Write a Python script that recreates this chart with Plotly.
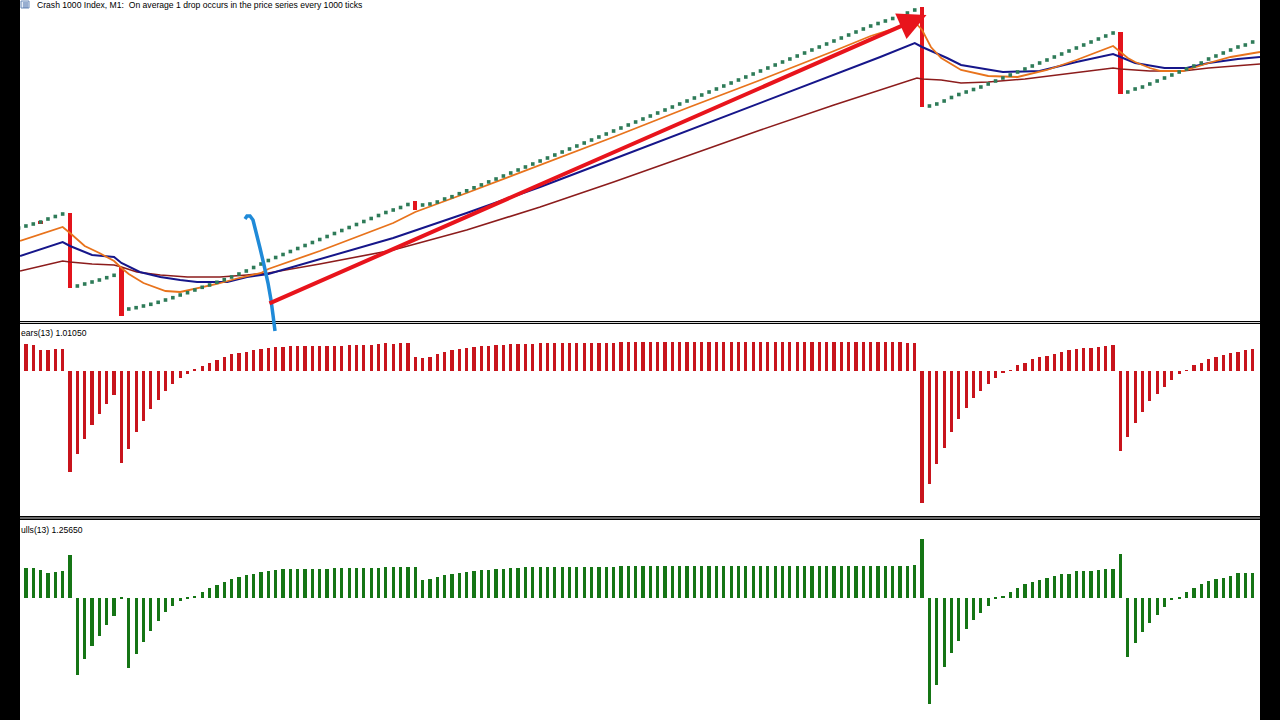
import plotly.graph_objects as go

# ---------------- data ----------------
bar_index = list(range(-1, 168))

bears_power = [
    27, 27, 26, 21, 21, 22, 22,
    -101, -83, -68, -54, -43, -33, -24,
    -92, -78, -61, -50, -38, -29, -20, -13, -7, -3,
    1.5, 5, 8, 11, 14, 17, 18, 19, 21, 22, 23, 24, 24,
    25, 25, 25, 25, 25, 25, 25, 25, 26, 26, 26, 26, 27, 28, 27, 28, 28,
    14, 13, 14, 17, 19, 21, 22, 23, 24, 25, 25, 26, 26, 27, 27, 27, 27,
    28, 28, 28, 28, 28, 28, 28, 28, 28, 28, 28,
    29, 29, 29, 29, 29, 29, 29, 29, 29, 29, 29, 29, 29, 29, 29, 29, 29, 29,
    29, 29, 29, 29, 29, 29, 29, 29, 29, 29, 29, 29, 29, 29, 29, 29, 29,
    29, 29, 29, 29, 28, 28,
    -132, -113, -93, -77, -61, -48, -37, -27, -20, -13, -7, -1.5, 1, 6, 8, 12,
    14, 15, 17, 19, 21, 22, 23, 23, 24, 25, 26,
    -80, -66, -52, -41, -30, -23, -16, -9, -2.5, 1, 6, 8, 12, 14, 16, 18, 19, 21, 22,
]

bulls_power = [
    30, 30, 30, 28, 25, 26, 26.5,
    43, -77, -61, -48, -38, -27, -18,
    -1, -70, -56, -44, -33, -23, -14, -8, -3, -1.5,
    1, 6, 9.5, 13, 16, 19, 21, 23, 24, 26, 27, 28, 28.5,
    29, 29, 29, 29, 29, 29, 29.5, 30, 30, 30, 30, 30, 30, 31, 31, 31, 31,
    31, 18, 19, 21, 23, 24, 25, 26, 27, 28, 28, 29, 29, 30, 30, 31, 31,
    31, 31, 31, 31, 31, 31, 31, 31, 31, 31, 31,
    32, 32, 32, 32, 32, 32, 32, 32, 32, 32, 32, 32, 32, 32, 32, 32, 32, 32,
    32, 32, 32, 32, 32, 32, 32, 32, 32, 32, 32, 32, 32, 32, 32, 32, 32,
    32, 32, 32, 32, 32, 33,
    59, -106, -87, -69, -55, -43, -31, -22, -15, -8, -1.5, 1, 6, 10, 14, 16,
    18, 20, 22, 24, 24, 27, 27, 27, 28, 29, 29,
    44, -59, -45, -34, -25, -17, -9, -2, -0.5, 6, 10, 14, 17, 19, 20, 22, 25, 25, 25,
]

sar_level = [
    93, 95, 97, 99, 102, 104.5, 107,
    None,
    35, 37, 39, 41, 43.3, 45.7,
    None,
    12, 13.3, 15, 16.7, 18.7, 21, 23.3, 26, 28.3, 31, 33.7, 36, 38.7, 41.3, 44, 47,
    50, 53.5, 57, 60.5, 63.5, 66.5, 69.5, 72.5, 75.5, 78.5, 81.5, 84.5, 87.5, 90.5,
    93.5, 96.5, 99.5, 102.5, 105.5, 108.5, 111, 113.5, 116.5,
    None,
    116, 117, 119, 122, 124.3,
    127.3, 130.2, 133.2, 136.1, 139.1, 142, 145, 148, 151, 154, 157, 160, 163, 166,
    169, 172, 175, 178, 181, 184, 187, 190, 193, 196, 199, 202, 205, 208, 211, 214,
    217, 220, 223, 226, 229, 232, 235, 238, 241, 244, 247, 250, 253, 256, 259, 262,
    265, 268, 271, 274, 277, 280, 283, 286, 289, 292, 295, 297.5, 300, 302.5, 305,
    308, 311,
    None,
    215, 217, 220, 223.5, 226.5, 229, 231.5, 234, 237, 240, 243, 246, 249, 252,
    255, 258, 261, 264, 267, 270, 273, 276, 279, 282, 285, 288,
    None,
    229, 232, 234, 237, 240, 243, 246, 249, 252, 255, 258, 262, 265, 268, 271, 274,
    276, 279,
]

# bearish (red) candles: index, open, close
drop_index = [2, 6, 13, 53, 122, 149]
drop_open = [100, 108, 54, 120, 314, 289]
drop_close = [97, 33, 5, 111, 214, 227]

# moving averages (bar position, level)
fast_x = [-0.8, 5, 6, 8, 10, 12, 13, 14, 16, 19, 21, 23, 26, 29, 32, 33, 40, 50, 53,
          60, 70, 80, 90, 100, 110, 115, 121, 122, 123.2, 124.6, 127.3, 131, 135,
          139, 143, 148, 149, 150, 151, 153, 154.5, 157.5, 161, 164, 168]
fast_y = [80, 94, 88, 75, 68, 60, 53, 47, 38, 30, 29, 32, 37, 43, 48, 52, 70, 98, 109,
          128, 156, 184, 213, 241, 270, 285, 299, 291, 274, 263, 251, 245, 244,
          251, 261, 275, 269, 263, 259, 253, 250, 250, 258, 264, 269]

mid_x = [-0.8, 5, 6, 9, 12, 13, 15.5, 18.3, 21, 23.3, 27.4, 30.1, 33, 40, 50, 60,
         70, 80, 90, 100, 110, 116.3, 121, 122, 125.4, 127.3, 133, 138, 143, 148,
         149, 151, 155, 158, 161, 165, 168]
mid_y = [65, 79, 75, 66, 64, 58, 49, 44, 41, 39, 39, 44, 47, 62, 83, 108,
         134, 162, 190, 218, 246, 264, 278, 274, 263, 256, 249, 250, 259, 267,
         264, 258, 253, 253, 258, 262, 264]

slow_x = [-0.8, 5, 6, 9, 12, 13, 15.1, 18.3, 22, 26.4, 30.1, 33, 40, 50, 60, 70,
          80, 90, 100, 110, 116.3, 121.3, 122, 124.6, 127.3, 131, 136, 143, 148,
          149, 153, 157.5, 161, 168]
slow_y = [50, 60, 59, 57, 56, 54, 49, 46, 44, 44, 46, 48, 57, 71, 91, 114,
          139, 165, 191, 216, 231, 243, 242, 241, 238, 239, 242, 248, 253,
          252, 250, 250, 253, 257]

title_text = "Crash 1000 Index, M1:  On average 1 drop occurs in the price series every 1000 ticks"
bears_label = "ears(13) 1.01050"
bulls_label = "ulls(13) 1.25650"

# hand-drawn annotations (screen sketch)
arrow_tail = (32.95, 17)
arrow_head = (122.6, 306)
blue_stroke_px = [(245, 219), (247, 216), (250, 216), (253, 220), (256, 232), (260, 248),
                  (264, 265), (268, 283), (271, 300), (273, 315), (275, 331)]

# ---------------- figure ----------------
W, H = 1280, 720
XL, XR = 20, 1260
x_range = [-0.807, 168.0]

fig = go.Figure()

fig.add_trace(go.Scatter(x=slow_x, y=slow_y, mode="lines",
                         line=dict(color="#8c1c1c", width=1.6), xaxis="x", yaxis="y"))
fig.add_trace(go.Scatter(x=mid_x, y=mid_y, mode="lines",
                         line=dict(color="#16168a", width=2), xaxis="x", yaxis="y"))
fig.add_trace(go.Scatter(x=fast_x, y=fast_y, mode="lines",
                         line=dict(color="#e8731c", width=1.8), xaxis="x", yaxis="y"))
fig.add_trace(go.Scatter(x=bar_index, y=sar_level, mode="markers",
                         marker=dict(symbol="square", size=3.6, color="#2e7b58",
                                     line=dict(width=0)),
                         xaxis="x", yaxis="y"))
fig.add_trace(go.Bar(x=drop_index, base=drop_close,
                     y=[o - c for o, c in zip(drop_open, drop_close)],
                     width=0.6, marker=dict(color="#e3141c", line=dict(width=0)),
                     xaxis="x", yaxis="y"))

fig.add_trace(go.Bar(x=bar_index, y=bears_power, width=0.44,
                     marker=dict(color="#c8141c", line=dict(width=0)),
                     xaxis="x2", yaxis="y2"))
fig.add_trace(go.Bar(x=bar_index, y=bulls_power, width=0.44,
                     marker=dict(color="#157515", line=dict(width=0)),
                     xaxis="x3", yaxis="y3"))

xdom = [XL / W, XR / W]
ax_common = dict(range=x_range, visible=False, fixedrange=True)
fig.update_layout(
    width=W, height=H,
    margin=dict(l=0, r=0, t=0, b=0),
    paper_bgcolor="black", plot_bgcolor="white",
    showlegend=False, bargap=0,
    xaxis=dict(domain=xdom, anchor="y", **ax_common),
    xaxis2=dict(domain=xdom, anchor="y2", **ax_common),
    xaxis3=dict(domain=xdom, anchor="y3", **ax_common),
    yaxis=dict(domain=[1 - 321 / H, 1], range=[0, 321], visible=False),
    yaxis2=dict(domain=[1 - 516 / H, 1 - 324 / H], range=[-145, 47], visible=False),
    yaxis3=dict(domain=[0, 1 - 520 / H], range=[-122.3, 77.7], visible=False),
)

# separator light lines inside the black gaps
for yy in (322.5, 518):
    fig.add_shape(type="line", xref="paper", yref="paper", x0=XL / W, x1=XR / W,
                  y0=1 - yy / H, y1=1 - yy / H, line=dict(color="#d8d8d8", width=1))

# red hand-drawn arrow
fig.add_annotation(x=arrow_head[0], y=arrow_head[1], ax=arrow_tail[0], ay=arrow_tail[1],
                   xref="x", yref="y", axref="x", ayref="y", text="", showarrow=True,
                   arrowhead=2, arrowsize=1.4, arrowwidth=4, arrowcolor="#e8141c")

# blue hand-drawn stroke
path = "M " + " L ".join(f"{px / W:.5f},{1 - py / H:.5f}" for px, py in blue_stroke_px)
fig.add_shape(type="path", path=path, xref="paper", yref="paper",
              line=dict(color="#1f8ad8", width=3.5), layer="above")

# small window icon
fig.add_shape(type="rect", xref="paper", yref="paper", x0=21 / W, x1=29 / W,
              y0=1 - 8 / H, y1=1 - 1 / H, line=dict(color="#6a8ab8", width=1),
              fillcolor="#e6eef8")
for yy in (3, 5, 7):
    fig.add_shape(type="line", xref="paper", yref="paper", x0=23 / W, x1=28 / W,
                  y0=1 - yy / H, y1=1 - yy / H, line=dict(color="#4a6fa8", width=1))

txt_font = dict(family="Liberation Sans, Arial, sans-serif", size=8.6, color="black")
fig.add_annotation(x=35 / W, y=1 - 5 / H, xref="paper", yref="paper", text=title_text,
                   showarrow=False, xanchor="left", yanchor="middle", font=txt_font)
fig.add_annotation(x=19 / W, y=1 - 333 / H, xref="paper", yref="paper", text=bears_label,
                   showarrow=False, xanchor="left", yanchor="middle", font=txt_font)
fig.add_annotation(x=19 / W, y=1 - 530 / H, xref="paper", yref="paper", text=bulls_label,
                   showarrow=False, xanchor="left", yanchor="middle", font=txt_font)

assert len(bears_power) == len(bar_index), len(bears_power)
assert len(bulls_power) == len(bar_index), len(bulls_power)
assert len(sar_level) == len(bar_index), len(sar_level)

fig.write_html("out.html", config={"displayModeBar": False},
               post_script="document.body.style.margin='0';document.body.style.overflow='hidden';")
